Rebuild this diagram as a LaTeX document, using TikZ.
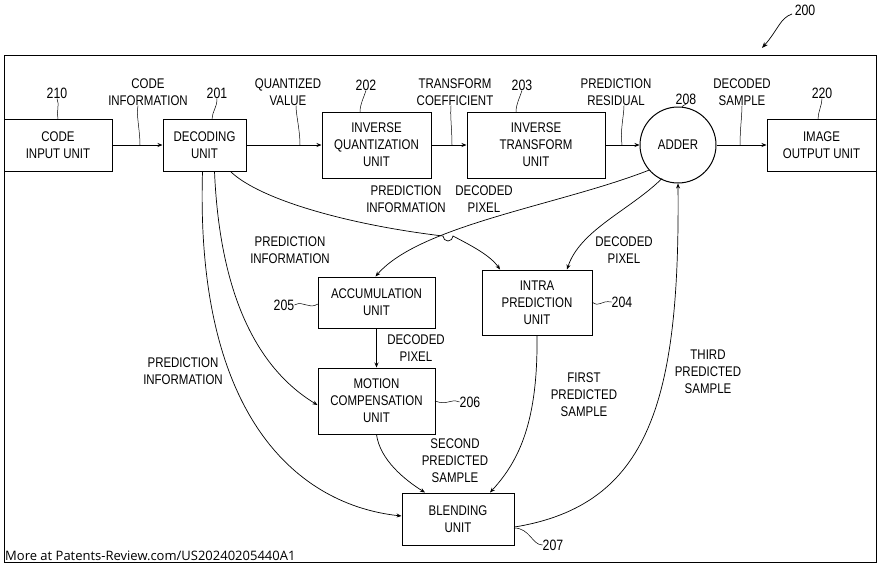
\documentclass[tikz,border=0pt]{standalone}
\usepackage{fontspec}
\setmainfont{Liberation Sans}[FakeStretch=0.82]
\newfontfamily\footfont{Open Sans}
\usetikzlibrary{arrows.meta}
\begin{document}
\begin{tikzpicture}[x=1pt,y=-1pt,
  box/.style={draw,line width=1pt,align=center,inner sep=0pt,font=\fontsize{14}{17}\selectfont},
  lab/.style={align=center,font=\fontsize{14}{17}\selectfont,inner sep=0pt},
  num/.style={font=\fontsize{15}{16}\selectfont,inner sep=0pt},
  arr/.style={-{Stealth[length=5pt,width=4pt]},line width=0.7pt},
  lead/.style={line width=0.5pt}]
\useasboundingbox (0,0) rectangle (880,571);
\draw[line width=1pt] (4,55) rectangle (876,562);
\node[box,minimum width=108,minimum height=52] (ci) at (58,145) {CODE\\INPUT UNIT};
\node[box,minimum width=83,minimum height=52] (dec) at (204.5,145) {DECODING\\UNIT};
\node[box,minimum width=109,minimum height=66] (iq) at (376.5,145) {INVERSE\\QUANTIZATION\\UNIT};
\node[box,minimum width=138,minimum height=66] (it) at (536,145) {INVERSE\\TRANSFORM\\UNIT};
\node[draw,circle,line width=1pt,minimum size=76,inner sep=0pt,font=\fontsize{14}{17}\selectfont] (add) at (678,145) {ADDER};
\node[box,minimum width=109,minimum height=52] (io) at (821.5,145) {IMAGE\\OUTPUT UNIT};
\node[box,minimum width=117,minimum height=51] (acc) at (376.5,302.5) {ACCUMULATION\\UNIT};
\node[box,minimum width=110,minimum height=65] (ip) at (537,302.5) {INTRA\\PREDICTION\\UNIT};
\node[box,minimum width=117,minimum height=66] (mc) at (376.5,401) {MOTION\\COMPENSATION\\UNIT};
\node[box,minimum width=112,minimum height=52] (bl) at (458,519) {BLENDING\\UNIT};
% numbers
\node[num] (n200) at (805,10) {200};
\draw[arr,-{Stealth[length=6pt,width=4.5pt]}] (792,14) .. controls (780,18) and (778,30) .. (762,48);
\node[num] (n210) at (57,93) {210};
\node[num] (n201) at (217,93) {201};
\node[num] (n202) at (366,85) {202};
\node[num] (n203) at (522,85) {203};
\node[num] (n208) at (686,99) {208};
\node[num] (n220) at (822,93) {220};
\node[num] (n205) at (284,305) {205};
\node[num] (n204) at (622,302) {204};
\node[num] (n206) at (470,402) {206};
\node[num] (n207) at (553,545) {207};
\draw[lead] (n210.south) .. controls (60,105) and (56,112) .. (58,119);
\draw[lead] (n201.south) .. controls (218,105) and (212,112) .. (212,119);
\draw[lead] (n202.south) .. controls (364,97) and (360,104) .. (360,112);
\draw[lead] (n203.south) .. controls (520,97) and (516,104) .. (516,112);
\draw[lead] (n208.south) .. controls (686,104) and (682,106) .. (682,107);
\draw[lead] (n220.south) .. controls (822,105) and (818,112) .. (818,119);
\draw[lead] (n205.east) .. controls (304,300) and (308,310) .. (318,304);
\draw[lead] (n204.west) .. controls (600,300) and (600,308) .. (592,302);
\draw[lead] (n206.west) .. controls (450,398) and (448,406) .. (435,401);
\draw[lead] (n207.west) .. controls (532,545) and (530,528) .. (514,528);
% main chain
\draw[arr] (ci) -- (dec);
\draw[arr] (dec) -- (iq);
\draw[arr] (iq) -- (it);
\draw[arr] (it) -- (add);
\draw[arr] (add) -- (io);
\node[lab] (l1) at (148,92) {CODE\\INFORMATION};
\node[lab] (l2) at (288,92) {QUANTIZED\\VALUE};
\node[lab] (l3) at (455,92) {TRANSFORM\\COEFFICIENT};
\node[lab] (l4) at (616,92) {PREDICTION\\RESIDUAL};
\node[lab] (l5) at (742,92) {DECODED\\SAMPLE};
\draw[lead] (l1.south) ++(-10,0) .. controls (136,115) and (140,130) .. (140,145);
\draw[lead] (l2.south) ++(8,0) .. controls (296,115) and (300,130) .. (300,145);
\draw[lead] (l3.south) ++(-4,0) .. controls (450,115) and (452,130) .. (452,145);
\draw[lead] (l4.south) ++(8,0) .. controls (624,115) and (620,130) .. (622,145);
\draw[lead] (l5.south) ++(0,0) .. controls (742,115) and (740,130) .. (740,145);
% curves
\draw[arr] (dec.south east) ++(-16,0) .. controls (260,200) and (350,225) .. (443,236) arc[start angle=180,end angle=0,radius=5] .. controls (470,245) and (490,255) .. ([xshift=-37]ip.north);
\draw[arr] (add.south west) ++(-2,-2) .. controls (560,205) and (420,225) .. ([xshift=-1]acc.north);
\draw[arr] (add.south) ++(-16,-5) .. controls (630,210) and (580,230) .. ([xshift=30]ip.north);
\draw[arr] ([xshift=10]dec.south) .. controls (220,300) and (260,370) .. ([yshift=-4]mc.west);
\draw[arr] ([xshift=-2]dec.south) .. controls (195,420) and (300,505) .. ([yshift=3]bl.west);
\draw[arr] (acc) -- (mc);
\draw[arr] (mc.south) .. controls (380,460) and (405,480) .. ([xshift=-33]bl.north);
\draw[arr] (ip.south) .. controls (538,420) and (520,460) .. ([xshift=32]bl.north);
\draw[arr] ([yshift=-8]bl.east) .. controls (650,505) and (680,400) .. (add.south);
\node[lab] at (406,199) {PREDICTION\\INFORMATION};
\node[lab] at (484,199) {DECODED\\PIXEL};
\node[lab] at (290,250) {PREDICTION\\INFORMATION};
\node[lab] at (624,250) {DECODED\\PIXEL};
\node[lab] at (416,348) {DECODED\\PIXEL};
\node[lab] at (183,371) {PREDICTION\\INFORMATION};
\node[lab] at (584,395) {FIRST\\PREDICTED\\SAMPLE};
\node[lab] at (455,461) {SECOND\\PREDICTED\\SAMPLE};
\node[lab] at (708,372) {THIRD\\PREDICTED\\SAMPLE};
\node[anchor=south west,inner sep=1pt,font=\footfont\fontsize{13}{14}\selectfont] at (4,562) {More at Patents-Review.com/US20240205440A1};
\end{tikzpicture}
\end{document}
